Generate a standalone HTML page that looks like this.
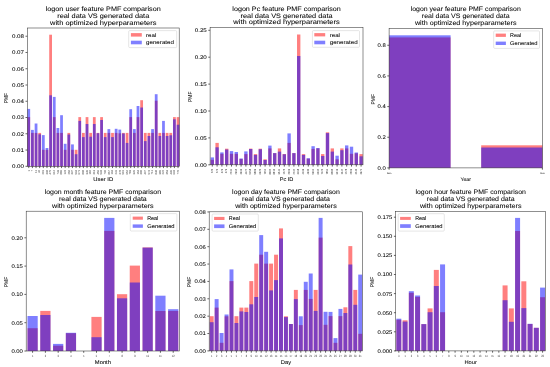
<!DOCTYPE html>
<html><head><meta charset="utf-8"><title>logon feature PMF comparison</title><style>
html,body{margin:0;padding:0;background:#fff;width:550px;height:367px;overflow:hidden}
svg{display:block;will-change:transform}
text{font-family:"Liberation Sans",sans-serif;text-rendering:geometricPrecision;stroke:#000;stroke-width:0.13px;stroke-opacity:0.4}
</style></head><body>
<svg width="550" height="367" viewBox="0 0 550 367">
<g>
<rect x="27.38" y="117.1" width="2.77" height="49.2" fill="#ff0000" fill-opacity="0.5"/>
<rect x="31.02" y="132.9" width="2.77" height="33.4" fill="#ff0000" fill-opacity="0.5"/>
<rect x="34.66" y="132.9" width="2.77" height="33.4" fill="#ff0000" fill-opacity="0.5"/>
<rect x="38.3" y="132.9" width="2.77" height="33.4" fill="#ff0000" fill-opacity="0.5"/>
<rect x="41.94" y="149.8" width="2.77" height="16.5" fill="#ff0000" fill-opacity="0.5"/>
<rect x="45.58" y="149.8" width="2.77" height="16.5" fill="#ff0000" fill-opacity="0.5"/>
<rect x="49.22" y="34.7" width="2.77" height="131.6" fill="#ff0000" fill-opacity="0.5"/>
<rect x="52.86" y="117.1" width="2.77" height="49.2" fill="#ff0000" fill-opacity="0.5"/>
<rect x="56.5" y="132.9" width="2.77" height="33.4" fill="#ff0000" fill-opacity="0.5"/>
<rect x="60.15" y="132.9" width="2.77" height="33.4" fill="#ff0000" fill-opacity="0.5"/>
<rect x="63.79" y="149.8" width="2.77" height="16.5" fill="#ff0000" fill-opacity="0.5"/>
<rect x="67.43" y="132.9" width="2.77" height="33.4" fill="#ff0000" fill-opacity="0.5"/>
<rect x="71.07" y="149.8" width="2.77" height="16.5" fill="#ff0000" fill-opacity="0.5"/>
<rect x="74.71" y="149.8" width="2.77" height="16.5" fill="#ff0000" fill-opacity="0.5"/>
<rect x="78.35" y="117.1" width="2.77" height="49.2" fill="#ff0000" fill-opacity="0.5"/>
<rect x="81.99" y="132.9" width="2.77" height="33.4" fill="#ff0000" fill-opacity="0.5"/>
<rect x="85.63" y="117.1" width="2.77" height="49.2" fill="#ff0000" fill-opacity="0.5"/>
<rect x="89.27" y="132.9" width="2.77" height="33.4" fill="#ff0000" fill-opacity="0.5"/>
<rect x="92.91" y="117.1" width="2.77" height="49.2" fill="#ff0000" fill-opacity="0.5"/>
<rect x="96.56" y="132.9" width="2.77" height="33.4" fill="#ff0000" fill-opacity="0.5"/>
<rect x="100.2" y="117.1" width="2.77" height="49.2" fill="#ff0000" fill-opacity="0.5"/>
<rect x="103.84" y="132.9" width="2.77" height="33.4" fill="#ff0000" fill-opacity="0.5"/>
<rect x="107.48" y="132.9" width="2.77" height="33.4" fill="#ff0000" fill-opacity="0.5"/>
<rect x="111.12" y="132.9" width="2.77" height="33.4" fill="#ff0000" fill-opacity="0.5"/>
<rect x="114.76" y="132.9" width="2.77" height="33.4" fill="#ff0000" fill-opacity="0.5"/>
<rect x="118.4" y="133.3" width="2.77" height="33" fill="#ff0000" fill-opacity="0.5"/>
<rect x="122.04" y="132.9" width="2.77" height="33.4" fill="#ff0000" fill-opacity="0.5"/>
<rect x="125.68" y="132.9" width="2.77" height="33.4" fill="#ff0000" fill-opacity="0.5"/>
<rect x="129.32" y="117.1" width="2.77" height="49.2" fill="#ff0000" fill-opacity="0.5"/>
<rect x="132.97" y="132.9" width="2.77" height="33.4" fill="#ff0000" fill-opacity="0.5"/>
<rect x="136.61" y="117.1" width="2.77" height="49.2" fill="#ff0000" fill-opacity="0.5"/>
<rect x="140.25" y="100.2" width="2.77" height="66.1" fill="#ff0000" fill-opacity="0.5"/>
<rect x="143.89" y="132.9" width="2.77" height="33.4" fill="#ff0000" fill-opacity="0.5"/>
<rect x="147.53" y="132.9" width="2.77" height="33.4" fill="#ff0000" fill-opacity="0.5"/>
<rect x="151.17" y="132.9" width="2.77" height="33.4" fill="#ff0000" fill-opacity="0.5"/>
<rect x="154.81" y="100.7" width="2.77" height="65.6" fill="#ff0000" fill-opacity="0.5"/>
<rect x="158.45" y="132.9" width="2.77" height="33.4" fill="#ff0000" fill-opacity="0.5"/>
<rect x="162.09" y="132.9" width="2.77" height="33.4" fill="#ff0000" fill-opacity="0.5"/>
<rect x="165.73" y="132.9" width="2.77" height="33.4" fill="#ff0000" fill-opacity="0.5"/>
<rect x="169.38" y="132.9" width="2.77" height="33.4" fill="#ff0000" fill-opacity="0.5"/>
<rect x="173.02" y="117.1" width="2.77" height="49.2" fill="#ff0000" fill-opacity="0.5"/>
<rect x="176.66" y="117.1" width="2.77" height="49.2" fill="#ff0000" fill-opacity="0.5"/>
<rect x="27.38" y="108.9" width="2.77" height="57.4" fill="#0000ff" fill-opacity="0.5"/>
<rect x="31.02" y="129.9" width="2.77" height="36.4" fill="#0000ff" fill-opacity="0.5"/>
<rect x="34.66" y="123.5" width="2.77" height="42.8" fill="#0000ff" fill-opacity="0.5"/>
<rect x="38.3" y="134.3" width="2.77" height="32" fill="#0000ff" fill-opacity="0.5"/>
<rect x="41.94" y="135.1" width="2.77" height="31.2" fill="#0000ff" fill-opacity="0.5"/>
<rect x="45.58" y="148" width="2.77" height="18.3" fill="#0000ff" fill-opacity="0.5"/>
<rect x="49.22" y="95.3" width="2.77" height="71" fill="#0000ff" fill-opacity="0.5"/>
<rect x="52.86" y="96.9" width="2.77" height="69.4" fill="#0000ff" fill-opacity="0.5"/>
<rect x="56.5" y="128" width="2.77" height="38.3" fill="#0000ff" fill-opacity="0.5"/>
<rect x="60.15" y="115.2" width="2.77" height="51.1" fill="#0000ff" fill-opacity="0.5"/>
<rect x="63.79" y="143.8" width="2.77" height="22.5" fill="#0000ff" fill-opacity="0.5"/>
<rect x="67.43" y="134.5" width="2.77" height="31.8" fill="#0000ff" fill-opacity="0.5"/>
<rect x="71.07" y="144.4" width="2.77" height="21.9" fill="#0000ff" fill-opacity="0.5"/>
<rect x="74.71" y="154.2" width="2.77" height="12.1" fill="#0000ff" fill-opacity="0.5"/>
<rect x="78.35" y="120.9" width="2.77" height="45.4" fill="#0000ff" fill-opacity="0.5"/>
<rect x="81.99" y="137.1" width="2.77" height="29.2" fill="#0000ff" fill-opacity="0.5"/>
<rect x="85.63" y="124" width="2.77" height="42.3" fill="#0000ff" fill-opacity="0.5"/>
<rect x="89.27" y="136.7" width="2.77" height="29.6" fill="#0000ff" fill-opacity="0.5"/>
<rect x="92.91" y="124" width="2.77" height="42.3" fill="#0000ff" fill-opacity="0.5"/>
<rect x="96.56" y="133.2" width="2.77" height="33.1" fill="#0000ff" fill-opacity="0.5"/>
<rect x="100.2" y="120" width="2.77" height="46.3" fill="#0000ff" fill-opacity="0.5"/>
<rect x="103.84" y="137.1" width="2.77" height="29.2" fill="#0000ff" fill-opacity="0.5"/>
<rect x="107.48" y="129.1" width="2.77" height="37.2" fill="#0000ff" fill-opacity="0.5"/>
<rect x="111.12" y="137.1" width="2.77" height="29.2" fill="#0000ff" fill-opacity="0.5"/>
<rect x="114.76" y="128.8" width="2.77" height="37.5" fill="#0000ff" fill-opacity="0.5"/>
<rect x="118.4" y="129.6" width="2.77" height="36.7" fill="#0000ff" fill-opacity="0.5"/>
<rect x="122.04" y="133.5" width="2.77" height="32.8" fill="#0000ff" fill-opacity="0.5"/>
<rect x="125.68" y="142.9" width="2.77" height="23.4" fill="#0000ff" fill-opacity="0.5"/>
<rect x="129.32" y="109.2" width="2.77" height="57.1" fill="#0000ff" fill-opacity="0.5"/>
<rect x="132.97" y="129.1" width="2.77" height="37.2" fill="#0000ff" fill-opacity="0.5"/>
<rect x="136.61" y="106" width="2.77" height="60.3" fill="#0000ff" fill-opacity="0.5"/>
<rect x="140.25" y="107.5" width="2.77" height="58.8" fill="#0000ff" fill-opacity="0.5"/>
<rect x="143.89" y="141.1" width="2.77" height="25.2" fill="#0000ff" fill-opacity="0.5"/>
<rect x="147.53" y="136" width="2.77" height="30.3" fill="#0000ff" fill-opacity="0.5"/>
<rect x="151.17" y="129.1" width="2.77" height="37.2" fill="#0000ff" fill-opacity="0.5"/>
<rect x="154.81" y="94.2" width="2.77" height="72.1" fill="#0000ff" fill-opacity="0.5"/>
<rect x="158.45" y="136" width="2.77" height="30.3" fill="#0000ff" fill-opacity="0.5"/>
<rect x="162.09" y="120.9" width="2.77" height="45.4" fill="#0000ff" fill-opacity="0.5"/>
<rect x="165.73" y="136" width="2.77" height="30.3" fill="#0000ff" fill-opacity="0.5"/>
<rect x="169.38" y="135.3" width="2.77" height="31" fill="#0000ff" fill-opacity="0.5"/>
<rect x="173.02" y="119.3" width="2.77" height="47" fill="#0000ff" fill-opacity="0.5"/>
<rect x="176.66" y="124.7" width="2.77" height="41.6" fill="#0000ff" fill-opacity="0.5"/>
<rect x="27.3" y="28" width="151.9" height="138.3" fill="none" stroke="#333" stroke-width="0.55"/>
<line x1="28.76" y1="166.3" x2="28.76" y2="168.1" stroke="#222" stroke-width="0.7"/>
<line x1="32.4" y1="166.3" x2="32.4" y2="168.1" stroke="#222" stroke-width="0.7"/>
<line x1="36.04" y1="166.3" x2="36.04" y2="168.1" stroke="#222" stroke-width="0.7"/>
<line x1="39.68" y1="166.3" x2="39.68" y2="168.1" stroke="#222" stroke-width="0.7"/>
<line x1="43.32" y1="166.3" x2="43.32" y2="168.1" stroke="#222" stroke-width="0.7"/>
<line x1="46.97" y1="166.3" x2="46.97" y2="168.1" stroke="#222" stroke-width="0.7"/>
<line x1="50.61" y1="166.3" x2="50.61" y2="168.1" stroke="#222" stroke-width="0.7"/>
<line x1="54.25" y1="166.3" x2="54.25" y2="168.1" stroke="#222" stroke-width="0.7"/>
<line x1="57.89" y1="166.3" x2="57.89" y2="168.1" stroke="#222" stroke-width="0.7"/>
<line x1="61.53" y1="166.3" x2="61.53" y2="168.1" stroke="#222" stroke-width="0.7"/>
<line x1="65.17" y1="166.3" x2="65.17" y2="168.1" stroke="#222" stroke-width="0.7"/>
<line x1="68.81" y1="166.3" x2="68.81" y2="168.1" stroke="#222" stroke-width="0.7"/>
<line x1="72.45" y1="166.3" x2="72.45" y2="168.1" stroke="#222" stroke-width="0.7"/>
<line x1="76.09" y1="166.3" x2="76.09" y2="168.1" stroke="#222" stroke-width="0.7"/>
<line x1="79.73" y1="166.3" x2="79.73" y2="168.1" stroke="#222" stroke-width="0.7"/>
<line x1="83.38" y1="166.3" x2="83.38" y2="168.1" stroke="#222" stroke-width="0.7"/>
<line x1="87.02" y1="166.3" x2="87.02" y2="168.1" stroke="#222" stroke-width="0.7"/>
<line x1="90.66" y1="166.3" x2="90.66" y2="168.1" stroke="#222" stroke-width="0.7"/>
<line x1="94.3" y1="166.3" x2="94.3" y2="168.1" stroke="#222" stroke-width="0.7"/>
<line x1="97.94" y1="166.3" x2="97.94" y2="168.1" stroke="#222" stroke-width="0.7"/>
<line x1="101.58" y1="166.3" x2="101.58" y2="168.1" stroke="#222" stroke-width="0.7"/>
<line x1="105.22" y1="166.3" x2="105.22" y2="168.1" stroke="#222" stroke-width="0.7"/>
<line x1="108.86" y1="166.3" x2="108.86" y2="168.1" stroke="#222" stroke-width="0.7"/>
<line x1="112.5" y1="166.3" x2="112.5" y2="168.1" stroke="#222" stroke-width="0.7"/>
<line x1="116.14" y1="166.3" x2="116.14" y2="168.1" stroke="#222" stroke-width="0.7"/>
<line x1="119.79" y1="166.3" x2="119.79" y2="168.1" stroke="#222" stroke-width="0.7"/>
<line x1="123.43" y1="166.3" x2="123.43" y2="168.1" stroke="#222" stroke-width="0.7"/>
<line x1="127.07" y1="166.3" x2="127.07" y2="168.1" stroke="#222" stroke-width="0.7"/>
<line x1="130.71" y1="166.3" x2="130.71" y2="168.1" stroke="#222" stroke-width="0.7"/>
<line x1="134.35" y1="166.3" x2="134.35" y2="168.1" stroke="#222" stroke-width="0.7"/>
<line x1="137.99" y1="166.3" x2="137.99" y2="168.1" stroke="#222" stroke-width="0.7"/>
<line x1="141.63" y1="166.3" x2="141.63" y2="168.1" stroke="#222" stroke-width="0.7"/>
<line x1="145.27" y1="166.3" x2="145.27" y2="168.1" stroke="#222" stroke-width="0.7"/>
<line x1="148.91" y1="166.3" x2="148.91" y2="168.1" stroke="#222" stroke-width="0.7"/>
<line x1="152.55" y1="166.3" x2="152.55" y2="168.1" stroke="#222" stroke-width="0.7"/>
<line x1="156.19" y1="166.3" x2="156.19" y2="168.1" stroke="#222" stroke-width="0.7"/>
<line x1="159.84" y1="166.3" x2="159.84" y2="168.1" stroke="#222" stroke-width="0.7"/>
<line x1="163.48" y1="166.3" x2="163.48" y2="168.1" stroke="#222" stroke-width="0.7"/>
<line x1="167.12" y1="166.3" x2="167.12" y2="168.1" stroke="#222" stroke-width="0.7"/>
<line x1="170.76" y1="166.3" x2="170.76" y2="168.1" stroke="#222" stroke-width="0.7"/>
<line x1="174.4" y1="166.3" x2="174.4" y2="168.1" stroke="#222" stroke-width="0.7"/>
<line x1="178.04" y1="166.3" x2="178.04" y2="168.1" stroke="#222" stroke-width="0.7"/>
<line x1="25.5" y1="166.3" x2="27.3" y2="166.3" stroke="#222" stroke-width="0.7"/>
<text x="24" y="168.19" font-size="5.34" text-anchor="end" textLength="12.06" lengthAdjust="spacingAndGlyphs" fill="#000">0.00</text>
<line x1="25.5" y1="150.04" x2="27.3" y2="150.04" stroke="#222" stroke-width="0.7"/>
<text x="24" y="151.93" font-size="5.34" text-anchor="end" textLength="12.06" lengthAdjust="spacingAndGlyphs" fill="#000">0.01</text>
<line x1="25.5" y1="133.78" x2="27.3" y2="133.78" stroke="#222" stroke-width="0.7"/>
<text x="24" y="135.67" font-size="5.34" text-anchor="end" textLength="12.06" lengthAdjust="spacingAndGlyphs" fill="#000">0.02</text>
<line x1="25.5" y1="117.52" x2="27.3" y2="117.52" stroke="#222" stroke-width="0.7"/>
<text x="24" y="119.41" font-size="5.34" text-anchor="end" textLength="12.06" lengthAdjust="spacingAndGlyphs" fill="#000">0.03</text>
<line x1="25.5" y1="101.26" x2="27.3" y2="101.26" stroke="#222" stroke-width="0.7"/>
<text x="24" y="103.15" font-size="5.34" text-anchor="end" textLength="12.06" lengthAdjust="spacingAndGlyphs" fill="#000">0.04</text>
<line x1="25.5" y1="85" x2="27.3" y2="85" stroke="#222" stroke-width="0.7"/>
<text x="24" y="86.89" font-size="5.34" text-anchor="end" textLength="12.06" lengthAdjust="spacingAndGlyphs" fill="#000">0.05</text>
<line x1="25.5" y1="68.74" x2="27.3" y2="68.74" stroke="#222" stroke-width="0.7"/>
<text x="24" y="70.63" font-size="5.34" text-anchor="end" textLength="12.06" lengthAdjust="spacingAndGlyphs" fill="#000">0.06</text>
<line x1="25.5" y1="52.48" x2="27.3" y2="52.48" stroke="#222" stroke-width="0.7"/>
<text x="24" y="54.37" font-size="5.34" text-anchor="end" textLength="12.06" lengthAdjust="spacingAndGlyphs" fill="#000">0.07</text>
<line x1="25.5" y1="36.22" x2="27.3" y2="36.22" stroke="#222" stroke-width="0.7"/>
<text x="24" y="38.11" font-size="5.34" text-anchor="end" textLength="12.06" lengthAdjust="spacingAndGlyphs" fill="#000">0.08</text>
<text font-size="2.9" text-anchor="end" textLength="1.53" lengthAdjust="spacingAndGlyphs" fill="#444" style="stroke:none" transform="translate(29.51 169.9) rotate(-90)">1</text>
<text font-size="2.9" text-anchor="end" textLength="1.53" lengthAdjust="spacingAndGlyphs" fill="#444" style="stroke:none" transform="translate(33.15 169.9) rotate(-90)">7</text>
<text font-size="2.9" text-anchor="end" textLength="3.06" lengthAdjust="spacingAndGlyphs" fill="#444" style="stroke:none" transform="translate(36.79 169.9) rotate(-90)">11</text>
<text font-size="2.9" text-anchor="end" textLength="3.06" lengthAdjust="spacingAndGlyphs" fill="#444" style="stroke:none" transform="translate(40.43 169.9) rotate(-90)">42</text>
<text font-size="2.9" text-anchor="end" textLength="4.59" lengthAdjust="spacingAndGlyphs" fill="#444" style="stroke:none" transform="translate(44.07 169.9) rotate(-90)">201</text>
<text font-size="2.9" text-anchor="end" textLength="4.59" lengthAdjust="spacingAndGlyphs" fill="#444" style="stroke:none" transform="translate(47.72 169.9) rotate(-90)">338</text>
<text font-size="2.9" text-anchor="end" textLength="4.59" lengthAdjust="spacingAndGlyphs" fill="#444" style="stroke:none" transform="translate(51.36 169.9) rotate(-90)">475</text>
<text font-size="2.9" text-anchor="end" textLength="4.59" lengthAdjust="spacingAndGlyphs" fill="#444" style="stroke:none" transform="translate(55 169.9) rotate(-90)">612</text>
<text font-size="2.9" text-anchor="end" textLength="4.59" lengthAdjust="spacingAndGlyphs" fill="#444" style="stroke:none" transform="translate(58.64 169.9) rotate(-90)">749</text>
<text font-size="2.9" text-anchor="end" textLength="4.59" lengthAdjust="spacingAndGlyphs" fill="#444" style="stroke:none" transform="translate(62.28 169.9) rotate(-90)">886</text>
<text font-size="2.9" text-anchor="end" textLength="4.59" lengthAdjust="spacingAndGlyphs" fill="#444" style="stroke:none" transform="translate(65.92 169.9) rotate(-90)">123</text>
<text font-size="2.9" text-anchor="end" textLength="4.59" lengthAdjust="spacingAndGlyphs" fill="#444" style="stroke:none" transform="translate(69.56 169.9) rotate(-90)">260</text>
<text font-size="2.9" text-anchor="end" textLength="4.59" lengthAdjust="spacingAndGlyphs" fill="#444" style="stroke:none" transform="translate(73.2 169.9) rotate(-90)">397</text>
<text font-size="2.9" text-anchor="end" textLength="4.59" lengthAdjust="spacingAndGlyphs" fill="#444" style="stroke:none" transform="translate(76.84 169.9) rotate(-90)">534</text>
<text font-size="2.9" text-anchor="end" textLength="4.59" lengthAdjust="spacingAndGlyphs" fill="#444" style="stroke:none" transform="translate(80.48 169.9) rotate(-90)">671</text>
<text font-size="2.9" text-anchor="end" textLength="4.59" lengthAdjust="spacingAndGlyphs" fill="#444" style="stroke:none" transform="translate(84.12 169.9) rotate(-90)">808</text>
<text font-size="2.9" text-anchor="end" textLength="4.59" lengthAdjust="spacingAndGlyphs" fill="#444" style="stroke:none" transform="translate(87.77 169.9) rotate(-90)">945</text>
<text font-size="2.9" text-anchor="end" textLength="4.59" lengthAdjust="spacingAndGlyphs" fill="#444" style="stroke:none" transform="translate(91.41 169.9) rotate(-90)">182</text>
<text font-size="2.9" text-anchor="end" textLength="4.59" lengthAdjust="spacingAndGlyphs" fill="#444" style="stroke:none" transform="translate(95.05 169.9) rotate(-90)">319</text>
<text font-size="2.9" text-anchor="end" textLength="4.59" lengthAdjust="spacingAndGlyphs" fill="#444" style="stroke:none" transform="translate(98.69 169.9) rotate(-90)">456</text>
<text font-size="2.9" text-anchor="end" textLength="4.59" lengthAdjust="spacingAndGlyphs" fill="#444" style="stroke:none" transform="translate(102.33 169.9) rotate(-90)">593</text>
<text font-size="2.9" text-anchor="end" textLength="4.59" lengthAdjust="spacingAndGlyphs" fill="#444" style="stroke:none" transform="translate(105.97 169.9) rotate(-90)">730</text>
<text font-size="2.9" text-anchor="end" textLength="4.59" lengthAdjust="spacingAndGlyphs" fill="#444" style="stroke:none" transform="translate(109.61 169.9) rotate(-90)">867</text>
<text font-size="2.9" text-anchor="end" textLength="4.59" lengthAdjust="spacingAndGlyphs" fill="#444" style="stroke:none" transform="translate(113.25 169.9) rotate(-90)">104</text>
<text font-size="2.9" text-anchor="end" textLength="4.59" lengthAdjust="spacingAndGlyphs" fill="#444" style="stroke:none" transform="translate(116.89 169.9) rotate(-90)">241</text>
<text font-size="2.9" text-anchor="end" textLength="4.59" lengthAdjust="spacingAndGlyphs" fill="#444" style="stroke:none" transform="translate(120.54 169.9) rotate(-90)">378</text>
<text font-size="2.9" text-anchor="end" textLength="4.59" lengthAdjust="spacingAndGlyphs" fill="#444" style="stroke:none" transform="translate(124.18 169.9) rotate(-90)">515</text>
<text font-size="2.9" text-anchor="end" textLength="4.59" lengthAdjust="spacingAndGlyphs" fill="#444" style="stroke:none" transform="translate(127.82 169.9) rotate(-90)">652</text>
<text font-size="2.9" text-anchor="end" textLength="4.59" lengthAdjust="spacingAndGlyphs" fill="#444" style="stroke:none" transform="translate(131.46 169.9) rotate(-90)">789</text>
<text font-size="2.9" text-anchor="end" textLength="4.59" lengthAdjust="spacingAndGlyphs" fill="#444" style="stroke:none" transform="translate(135.1 169.9) rotate(-90)">926</text>
<text font-size="2.9" text-anchor="end" textLength="4.59" lengthAdjust="spacingAndGlyphs" fill="#444" style="stroke:none" transform="translate(138.74 169.9) rotate(-90)">163</text>
<text font-size="2.9" text-anchor="end" textLength="4.59" lengthAdjust="spacingAndGlyphs" fill="#444" style="stroke:none" transform="translate(142.38 169.9) rotate(-90)">300</text>
<text font-size="2.9" text-anchor="end" textLength="4.59" lengthAdjust="spacingAndGlyphs" fill="#444" style="stroke:none" transform="translate(146.02 169.9) rotate(-90)">437</text>
<text font-size="2.9" text-anchor="end" textLength="4.59" lengthAdjust="spacingAndGlyphs" fill="#444" style="stroke:none" transform="translate(149.66 169.9) rotate(-90)">574</text>
<text font-size="2.9" text-anchor="end" textLength="4.59" lengthAdjust="spacingAndGlyphs" fill="#444" style="stroke:none" transform="translate(153.3 169.9) rotate(-90)">711</text>
<text font-size="2.9" text-anchor="end" textLength="4.59" lengthAdjust="spacingAndGlyphs" fill="#444" style="stroke:none" transform="translate(156.94 169.9) rotate(-90)">848</text>
<text font-size="2.9" text-anchor="end" textLength="4.59" lengthAdjust="spacingAndGlyphs" fill="#444" style="stroke:none" transform="translate(160.59 169.9) rotate(-90)">985</text>
<text font-size="2.9" text-anchor="end" textLength="4.59" lengthAdjust="spacingAndGlyphs" fill="#444" style="stroke:none" transform="translate(164.23 169.9) rotate(-90)">222</text>
<text font-size="2.9" text-anchor="end" textLength="4.59" lengthAdjust="spacingAndGlyphs" fill="#444" style="stroke:none" transform="translate(167.87 169.9) rotate(-90)">359</text>
<text font-size="2.9" text-anchor="end" textLength="4.59" lengthAdjust="spacingAndGlyphs" fill="#444" style="stroke:none" transform="translate(171.51 169.9) rotate(-90)">496</text>
<text font-size="2.9" text-anchor="end" textLength="4.59" lengthAdjust="spacingAndGlyphs" fill="#444" style="stroke:none" transform="translate(175.15 169.9) rotate(-90)">633</text>
<text font-size="2.9" text-anchor="end" textLength="4.59" lengthAdjust="spacingAndGlyphs" fill="#444" style="stroke:none" transform="translate(178.79 169.9) rotate(-90)">770</text>
<text x="103.25" y="10.9" font-size="6.41" text-anchor="middle" textLength="115.13" lengthAdjust="spacingAndGlyphs" fill="#000">logon user feature PMF comparison</text>
<text x="103.25" y="17.75" font-size="6.41" text-anchor="middle" textLength="92.01" lengthAdjust="spacingAndGlyphs" fill="#000">real data VS generated data</text>
<text x="103.25" y="24.6" font-size="6.41" text-anchor="middle" textLength="106.52" lengthAdjust="spacingAndGlyphs" fill="#000">with optimized hyperparameters</text>
<text x="103.25" y="180.6" font-size="5.34" text-anchor="middle" textLength="19.84" lengthAdjust="spacingAndGlyphs" fill="#000">User ID</text>
<text x="0" y="0" font-size="5.69" text-anchor="middle" textLength="10.38" lengthAdjust="spacingAndGlyphs" fill="#000" transform="translate(8.2 98.1) rotate(-90)">PMF</text>
<rect x="128.7" y="30.6" width="48" height="17" rx="1" ry="1" fill="#fff" fill-opacity="0.8" stroke="#ccc" stroke-width="0.5"/>
<rect x="130.9" y="33.1" width="10.9" height="3.5" fill="#ff0000" fill-opacity="0.5"/>
<rect x="130.9" y="40.7" width="10.9" height="3.6" fill="#0000ff" fill-opacity="0.5"/>
<text x="146" y="36.6" font-size="5.34" text-anchor="start" textLength="10.26" lengthAdjust="spacingAndGlyphs" fill="#000">real</text>
<text x="146" y="44" font-size="5.34" text-anchor="start" textLength="27.98" lengthAdjust="spacingAndGlyphs" fill="#000">generated</text>
</g>
<g>
<rect x="210.62" y="159.8" width="3.36" height="5" fill="#ff0000" fill-opacity="0.5"/>
<rect x="215.42" y="142.9" width="3.36" height="21.9" fill="#ff0000" fill-opacity="0.5"/>
<rect x="220.22" y="153.8" width="3.36" height="11" fill="#ff0000" fill-opacity="0.5"/>
<rect x="225.02" y="148.7" width="3.36" height="16.1" fill="#ff0000" fill-opacity="0.5"/>
<rect x="229.82" y="153.8" width="3.36" height="11" fill="#ff0000" fill-opacity="0.5"/>
<rect x="234.62" y="153.8" width="3.36" height="11" fill="#ff0000" fill-opacity="0.5"/>
<rect x="239.42" y="158.9" width="3.36" height="5.9" fill="#ff0000" fill-opacity="0.5"/>
<rect x="244.22" y="154.1" width="3.36" height="10.7" fill="#ff0000" fill-opacity="0.5"/>
<rect x="249.02" y="148.6" width="3.36" height="16.2" fill="#ff0000" fill-opacity="0.5"/>
<rect x="253.82" y="154.1" width="3.36" height="10.7" fill="#ff0000" fill-opacity="0.5"/>
<rect x="258.62" y="148.7" width="3.36" height="16.1" fill="#ff0000" fill-opacity="0.5"/>
<rect x="263.42" y="159.3" width="3.36" height="5.5" fill="#ff0000" fill-opacity="0.5"/>
<rect x="268.22" y="148.4" width="3.36" height="16.4" fill="#ff0000" fill-opacity="0.5"/>
<rect x="273.02" y="153.1" width="3.36" height="11.7" fill="#ff0000" fill-opacity="0.5"/>
<rect x="277.82" y="148.4" width="3.36" height="16.4" fill="#ff0000" fill-opacity="0.5"/>
<rect x="282.62" y="154" width="3.36" height="10.8" fill="#ff0000" fill-opacity="0.5"/>
<rect x="287.42" y="142.9" width="3.36" height="21.9" fill="#ff0000" fill-opacity="0.5"/>
<rect x="292.22" y="153.1" width="3.36" height="11.7" fill="#ff0000" fill-opacity="0.5"/>
<rect x="297.02" y="34.5" width="3.36" height="130.3" fill="#ff0000" fill-opacity="0.5"/>
<rect x="301.82" y="154.1" width="3.36" height="10.7" fill="#ff0000" fill-opacity="0.5"/>
<rect x="306.62" y="158.7" width="3.36" height="6.1" fill="#ff0000" fill-opacity="0.5"/>
<rect x="311.42" y="148.9" width="3.36" height="15.9" fill="#ff0000" fill-opacity="0.5"/>
<rect x="316.22" y="148.4" width="3.36" height="16.4" fill="#ff0000" fill-opacity="0.5"/>
<rect x="321.02" y="154.1" width="3.36" height="10.7" fill="#ff0000" fill-opacity="0.5"/>
<rect x="325.82" y="132.3" width="3.36" height="32.5" fill="#ff0000" fill-opacity="0.5"/>
<rect x="330.62" y="148.4" width="3.36" height="16.4" fill="#ff0000" fill-opacity="0.5"/>
<rect x="335.42" y="159.3" width="3.36" height="5.5" fill="#ff0000" fill-opacity="0.5"/>
<rect x="340.22" y="148.4" width="3.36" height="16.4" fill="#ff0000" fill-opacity="0.5"/>
<rect x="345.02" y="148.4" width="3.36" height="16.4" fill="#ff0000" fill-opacity="0.5"/>
<rect x="349.82" y="153.8" width="3.36" height="11" fill="#ff0000" fill-opacity="0.5"/>
<rect x="354.62" y="153.3" width="3.36" height="11.5" fill="#ff0000" fill-opacity="0.5"/>
<rect x="359.42" y="154.1" width="3.36" height="10.7" fill="#ff0000" fill-opacity="0.5"/>
<rect x="210.62" y="157.4" width="3.36" height="7.4" fill="#0000ff" fill-opacity="0.5"/>
<rect x="215.42" y="147.3" width="3.36" height="17.5" fill="#0000ff" fill-opacity="0.5"/>
<rect x="220.22" y="152.4" width="3.36" height="12.4" fill="#0000ff" fill-opacity="0.5"/>
<rect x="225.02" y="149.5" width="3.36" height="15.3" fill="#0000ff" fill-opacity="0.5"/>
<rect x="229.82" y="151.1" width="3.36" height="13.7" fill="#0000ff" fill-opacity="0.5"/>
<rect x="234.62" y="152" width="3.36" height="12.8" fill="#0000ff" fill-opacity="0.5"/>
<rect x="239.42" y="158.5" width="3.36" height="6.3" fill="#0000ff" fill-opacity="0.5"/>
<rect x="244.22" y="151.4" width="3.36" height="13.4" fill="#0000ff" fill-opacity="0.5"/>
<rect x="249.02" y="149" width="3.36" height="15.8" fill="#0000ff" fill-opacity="0.5"/>
<rect x="253.82" y="154.9" width="3.36" height="9.9" fill="#0000ff" fill-opacity="0.5"/>
<rect x="258.62" y="149.2" width="3.36" height="15.6" fill="#0000ff" fill-opacity="0.5"/>
<rect x="263.42" y="160" width="3.36" height="4.8" fill="#0000ff" fill-opacity="0.5"/>
<rect x="268.22" y="145.6" width="3.36" height="19.2" fill="#0000ff" fill-opacity="0.5"/>
<rect x="273.02" y="153.1" width="3.36" height="11.7" fill="#0000ff" fill-opacity="0.5"/>
<rect x="277.82" y="151.6" width="3.36" height="13.2" fill="#0000ff" fill-opacity="0.5"/>
<rect x="282.62" y="154.3" width="3.36" height="10.5" fill="#0000ff" fill-opacity="0.5"/>
<rect x="287.42" y="133.4" width="3.36" height="31.4" fill="#0000ff" fill-opacity="0.5"/>
<rect x="292.22" y="153.1" width="3.36" height="11.7" fill="#0000ff" fill-opacity="0.5"/>
<rect x="297.02" y="56" width="3.36" height="108.8" fill="#0000ff" fill-opacity="0.5"/>
<rect x="301.82" y="154.9" width="3.36" height="9.9" fill="#0000ff" fill-opacity="0.5"/>
<rect x="306.62" y="158.2" width="3.36" height="6.6" fill="#0000ff" fill-opacity="0.5"/>
<rect x="311.42" y="146.2" width="3.36" height="18.6" fill="#0000ff" fill-opacity="0.5"/>
<rect x="316.22" y="148" width="3.36" height="16.8" fill="#0000ff" fill-opacity="0.5"/>
<rect x="321.02" y="156" width="3.36" height="8.8" fill="#0000ff" fill-opacity="0.5"/>
<rect x="325.82" y="133.1" width="3.36" height="31.7" fill="#0000ff" fill-opacity="0.5"/>
<rect x="330.62" y="151.6" width="3.36" height="13.2" fill="#0000ff" fill-opacity="0.5"/>
<rect x="335.42" y="155.7" width="3.36" height="9.1" fill="#0000ff" fill-opacity="0.5"/>
<rect x="340.22" y="150.2" width="3.36" height="14.6" fill="#0000ff" fill-opacity="0.5"/>
<rect x="345.02" y="145.4" width="3.36" height="19.4" fill="#0000ff" fill-opacity="0.5"/>
<rect x="349.82" y="146.7" width="3.36" height="18.1" fill="#0000ff" fill-opacity="0.5"/>
<rect x="354.62" y="152.5" width="3.36" height="12.3" fill="#0000ff" fill-opacity="0.5"/>
<rect x="359.42" y="156.3" width="3.36" height="8.5" fill="#0000ff" fill-opacity="0.5"/>
<rect x="210.1" y="27.4" width="152.9" height="137.4" fill="none" stroke="#333" stroke-width="0.55"/>
<line x1="212.3" y1="164.8" x2="212.3" y2="166.6" stroke="#222" stroke-width="0.7"/>
<line x1="217.1" y1="164.8" x2="217.1" y2="166.6" stroke="#222" stroke-width="0.7"/>
<line x1="221.9" y1="164.8" x2="221.9" y2="166.6" stroke="#222" stroke-width="0.7"/>
<line x1="226.7" y1="164.8" x2="226.7" y2="166.6" stroke="#222" stroke-width="0.7"/>
<line x1="231.5" y1="164.8" x2="231.5" y2="166.6" stroke="#222" stroke-width="0.7"/>
<line x1="236.3" y1="164.8" x2="236.3" y2="166.6" stroke="#222" stroke-width="0.7"/>
<line x1="241.1" y1="164.8" x2="241.1" y2="166.6" stroke="#222" stroke-width="0.7"/>
<line x1="245.9" y1="164.8" x2="245.9" y2="166.6" stroke="#222" stroke-width="0.7"/>
<line x1="250.7" y1="164.8" x2="250.7" y2="166.6" stroke="#222" stroke-width="0.7"/>
<line x1="255.5" y1="164.8" x2="255.5" y2="166.6" stroke="#222" stroke-width="0.7"/>
<line x1="260.3" y1="164.8" x2="260.3" y2="166.6" stroke="#222" stroke-width="0.7"/>
<line x1="265.1" y1="164.8" x2="265.1" y2="166.6" stroke="#222" stroke-width="0.7"/>
<line x1="269.9" y1="164.8" x2="269.9" y2="166.6" stroke="#222" stroke-width="0.7"/>
<line x1="274.7" y1="164.8" x2="274.7" y2="166.6" stroke="#222" stroke-width="0.7"/>
<line x1="279.5" y1="164.8" x2="279.5" y2="166.6" stroke="#222" stroke-width="0.7"/>
<line x1="284.3" y1="164.8" x2="284.3" y2="166.6" stroke="#222" stroke-width="0.7"/>
<line x1="289.1" y1="164.8" x2="289.1" y2="166.6" stroke="#222" stroke-width="0.7"/>
<line x1="293.9" y1="164.8" x2="293.9" y2="166.6" stroke="#222" stroke-width="0.7"/>
<line x1="298.7" y1="164.8" x2="298.7" y2="166.6" stroke="#222" stroke-width="0.7"/>
<line x1="303.5" y1="164.8" x2="303.5" y2="166.6" stroke="#222" stroke-width="0.7"/>
<line x1="308.3" y1="164.8" x2="308.3" y2="166.6" stroke="#222" stroke-width="0.7"/>
<line x1="313.1" y1="164.8" x2="313.1" y2="166.6" stroke="#222" stroke-width="0.7"/>
<line x1="317.9" y1="164.8" x2="317.9" y2="166.6" stroke="#222" stroke-width="0.7"/>
<line x1="322.7" y1="164.8" x2="322.7" y2="166.6" stroke="#222" stroke-width="0.7"/>
<line x1="327.5" y1="164.8" x2="327.5" y2="166.6" stroke="#222" stroke-width="0.7"/>
<line x1="332.3" y1="164.8" x2="332.3" y2="166.6" stroke="#222" stroke-width="0.7"/>
<line x1="337.1" y1="164.8" x2="337.1" y2="166.6" stroke="#222" stroke-width="0.7"/>
<line x1="341.9" y1="164.8" x2="341.9" y2="166.6" stroke="#222" stroke-width="0.7"/>
<line x1="346.7" y1="164.8" x2="346.7" y2="166.6" stroke="#222" stroke-width="0.7"/>
<line x1="351.5" y1="164.8" x2="351.5" y2="166.6" stroke="#222" stroke-width="0.7"/>
<line x1="356.3" y1="164.8" x2="356.3" y2="166.6" stroke="#222" stroke-width="0.7"/>
<line x1="361.1" y1="164.8" x2="361.1" y2="166.6" stroke="#222" stroke-width="0.7"/>
<line x1="208.3" y1="164.8" x2="210.1" y2="164.8" stroke="#222" stroke-width="0.7"/>
<text x="206.8" y="166.69" font-size="5.34" text-anchor="end" textLength="12.06" lengthAdjust="spacingAndGlyphs" fill="#000">0.00</text>
<line x1="208.3" y1="137.9" x2="210.1" y2="137.9" stroke="#222" stroke-width="0.7"/>
<text x="206.8" y="139.79" font-size="5.34" text-anchor="end" textLength="12.06" lengthAdjust="spacingAndGlyphs" fill="#000">0.05</text>
<line x1="208.3" y1="111" x2="210.1" y2="111" stroke="#222" stroke-width="0.7"/>
<text x="206.8" y="112.89" font-size="5.34" text-anchor="end" textLength="12.06" lengthAdjust="spacingAndGlyphs" fill="#000">0.10</text>
<line x1="208.3" y1="84.1" x2="210.1" y2="84.1" stroke="#222" stroke-width="0.7"/>
<text x="206.8" y="85.99" font-size="5.34" text-anchor="end" textLength="12.06" lengthAdjust="spacingAndGlyphs" fill="#000">0.15</text>
<line x1="208.3" y1="57.2" x2="210.1" y2="57.2" stroke="#222" stroke-width="0.7"/>
<text x="206.8" y="59.09" font-size="5.34" text-anchor="end" textLength="12.06" lengthAdjust="spacingAndGlyphs" fill="#000">0.20</text>
<line x1="208.3" y1="30.3" x2="210.1" y2="30.3" stroke="#222" stroke-width="0.7"/>
<text x="206.8" y="32.19" font-size="5.34" text-anchor="end" textLength="12.06" lengthAdjust="spacingAndGlyphs" fill="#000">0.25</text>
<text font-size="2.9" text-anchor="end" textLength="4.35" lengthAdjust="spacingAndGlyphs" fill="#444" style="stroke:none" transform="translate(213.05 168.8) rotate(-90)">220</text>
<text font-size="2.9" text-anchor="end" textLength="4.35" lengthAdjust="spacingAndGlyphs" fill="#444" style="stroke:none" transform="translate(217.85 168.8) rotate(-90)">273</text>
<text font-size="2.9" text-anchor="end" textLength="4.35" lengthAdjust="spacingAndGlyphs" fill="#444" style="stroke:none" transform="translate(222.65 168.8) rotate(-90)">326</text>
<text font-size="2.9" text-anchor="end" textLength="4.35" lengthAdjust="spacingAndGlyphs" fill="#444" style="stroke:none" transform="translate(227.45 168.8) rotate(-90)">379</text>
<text font-size="2.9" text-anchor="end" textLength="5.8" lengthAdjust="spacingAndGlyphs" fill="#444" style="stroke:none" transform="translate(232.25 168.8) rotate(-90)">2234</text>
<text font-size="2.9" text-anchor="end" textLength="5.8" lengthAdjust="spacingAndGlyphs" fill="#444" style="stroke:none" transform="translate(237.05 168.8) rotate(-90)">2965</text>
<text font-size="2.9" text-anchor="end" textLength="5.8" lengthAdjust="spacingAndGlyphs" fill="#444" style="stroke:none" transform="translate(241.85 168.8) rotate(-90)">3696</text>
<text font-size="2.9" text-anchor="end" textLength="5.8" lengthAdjust="spacingAndGlyphs" fill="#444" style="stroke:none" transform="translate(246.65 168.8) rotate(-90)">4427</text>
<text font-size="2.9" text-anchor="end" textLength="5.8" lengthAdjust="spacingAndGlyphs" fill="#444" style="stroke:none" transform="translate(251.45 168.8) rotate(-90)">5158</text>
<text font-size="2.9" text-anchor="end" textLength="5.8" lengthAdjust="spacingAndGlyphs" fill="#444" style="stroke:none" transform="translate(256.25 168.8) rotate(-90)">5889</text>
<text font-size="2.9" text-anchor="end" textLength="5.8" lengthAdjust="spacingAndGlyphs" fill="#444" style="stroke:none" transform="translate(261.05 168.8) rotate(-90)">6620</text>
<text font-size="2.9" text-anchor="end" textLength="5.8" lengthAdjust="spacingAndGlyphs" fill="#444" style="stroke:none" transform="translate(265.85 168.8) rotate(-90)">7351</text>
<text font-size="2.9" text-anchor="end" textLength="5.8" lengthAdjust="spacingAndGlyphs" fill="#444" style="stroke:none" transform="translate(270.65 168.8) rotate(-90)">8082</text>
<text font-size="2.9" text-anchor="end" textLength="5.8" lengthAdjust="spacingAndGlyphs" fill="#444" style="stroke:none" transform="translate(275.45 168.8) rotate(-90)">8813</text>
<text font-size="2.9" text-anchor="end" textLength="5.8" lengthAdjust="spacingAndGlyphs" fill="#444" style="stroke:none" transform="translate(280.25 168.8) rotate(-90)">9544</text>
<text font-size="2.9" text-anchor="end" textLength="5.8" lengthAdjust="spacingAndGlyphs" fill="#444" style="stroke:none" transform="translate(285.05 168.8) rotate(-90)">1275</text>
<text font-size="2.9" text-anchor="end" textLength="5.8" lengthAdjust="spacingAndGlyphs" fill="#444" style="stroke:none" transform="translate(289.85 168.8) rotate(-90)">2006</text>
<text font-size="2.9" text-anchor="end" textLength="5.8" lengthAdjust="spacingAndGlyphs" fill="#444" style="stroke:none" transform="translate(294.65 168.8) rotate(-90)">2737</text>
<text font-size="2.9" text-anchor="end" textLength="5.8" lengthAdjust="spacingAndGlyphs" fill="#444" style="stroke:none" transform="translate(299.45 168.8) rotate(-90)">3468</text>
<text font-size="2.9" text-anchor="end" textLength="5.8" lengthAdjust="spacingAndGlyphs" fill="#444" style="stroke:none" transform="translate(304.25 168.8) rotate(-90)">4199</text>
<text font-size="2.9" text-anchor="end" textLength="5.8" lengthAdjust="spacingAndGlyphs" fill="#444" style="stroke:none" transform="translate(309.05 168.8) rotate(-90)">4930</text>
<text font-size="2.9" text-anchor="end" textLength="5.8" lengthAdjust="spacingAndGlyphs" fill="#444" style="stroke:none" transform="translate(313.85 168.8) rotate(-90)">5661</text>
<text font-size="2.9" text-anchor="end" textLength="5.8" lengthAdjust="spacingAndGlyphs" fill="#444" style="stroke:none" transform="translate(318.65 168.8) rotate(-90)">6392</text>
<text font-size="2.9" text-anchor="end" textLength="5.8" lengthAdjust="spacingAndGlyphs" fill="#444" style="stroke:none" transform="translate(323.45 168.8) rotate(-90)">7123</text>
<text font-size="2.9" text-anchor="end" textLength="5.8" lengthAdjust="spacingAndGlyphs" fill="#444" style="stroke:none" transform="translate(328.25 168.8) rotate(-90)">7854</text>
<text font-size="2.9" text-anchor="end" textLength="5.8" lengthAdjust="spacingAndGlyphs" fill="#444" style="stroke:none" transform="translate(333.05 168.8) rotate(-90)">8585</text>
<text font-size="2.9" text-anchor="end" textLength="5.8" lengthAdjust="spacingAndGlyphs" fill="#444" style="stroke:none" transform="translate(337.85 168.8) rotate(-90)">9316</text>
<text font-size="2.9" text-anchor="end" textLength="5.8" lengthAdjust="spacingAndGlyphs" fill="#444" style="stroke:none" transform="translate(342.65 168.8) rotate(-90)">1047</text>
<text font-size="2.9" text-anchor="end" textLength="5.8" lengthAdjust="spacingAndGlyphs" fill="#444" style="stroke:none" transform="translate(347.45 168.8) rotate(-90)">1778</text>
<text font-size="2.9" text-anchor="end" textLength="5.8" lengthAdjust="spacingAndGlyphs" fill="#444" style="stroke:none" transform="translate(352.25 168.8) rotate(-90)">2509</text>
<text font-size="2.9" text-anchor="end" textLength="5.8" lengthAdjust="spacingAndGlyphs" fill="#444" style="stroke:none" transform="translate(357.05 168.8) rotate(-90)">3240</text>
<text font-size="2.9" text-anchor="end" textLength="5.8" lengthAdjust="spacingAndGlyphs" fill="#444" style="stroke:none" transform="translate(361.85 168.8) rotate(-90)">3971</text>
<text x="286.55" y="10.7" font-size="6.41" text-anchor="middle" textLength="108.45" lengthAdjust="spacingAndGlyphs" fill="#000">logon Pc feature PMF comparison</text>
<text x="286.55" y="17.6" font-size="6.41" text-anchor="middle" textLength="92.01" lengthAdjust="spacingAndGlyphs" fill="#000">real data VS generated data</text>
<text x="286.55" y="24.3" font-size="6.41" text-anchor="middle" textLength="106.52" lengthAdjust="spacingAndGlyphs" fill="#000">with optimized hyperparameters</text>
<text x="286.55" y="180.8" font-size="5.34" text-anchor="middle" textLength="13.73" lengthAdjust="spacingAndGlyphs" fill="#000">Pc ID</text>
<text x="0" y="0" font-size="5.69" text-anchor="middle" textLength="10.38" lengthAdjust="spacingAndGlyphs" fill="#000" transform="translate(191.7 96.8) rotate(-90)">PMF</text>
<rect x="312.4" y="30.6" width="47.1" height="16.7" rx="1" ry="1" fill="#fff" fill-opacity="0.8" stroke="#ccc" stroke-width="0.5"/>
<rect x="314.3" y="33.1" width="10.9" height="3.3" fill="#ff0000" fill-opacity="0.5"/>
<rect x="314.3" y="40.7" width="10.9" height="3.6" fill="#0000ff" fill-opacity="0.5"/>
<text x="329.7" y="36.6" font-size="5.34" text-anchor="start" textLength="10.26" lengthAdjust="spacingAndGlyphs" fill="#000">real</text>
<text x="329.7" y="44" font-size="5.34" text-anchor="start" textLength="27.98" lengthAdjust="spacingAndGlyphs" fill="#000">generated</text>
</g>
<g>
<rect x="389.1" y="37.4" width="61.5" height="130.5" fill="#ff0000" fill-opacity="0.5"/>
<rect x="389.1" y="35.3" width="61.5" height="132.6" fill="#0000ff" fill-opacity="0.5"/>
<rect x="481.2" y="145.3" width="61.2" height="22.6" fill="#ff0000" fill-opacity="0.5"/>
<rect x="481.2" y="147.5" width="61.2" height="20.4" fill="#0000ff" fill-opacity="0.5"/>
<rect x="389.1" y="28.4" width="153.3" height="139.5" fill="none" stroke="#333" stroke-width="0.55"/>
<line x1="389.1" y1="167.9" x2="389.1" y2="169.7" stroke="#222" stroke-width="0.7"/>
<line x1="542.4" y1="167.9" x2="542.4" y2="169.7" stroke="#222" stroke-width="0.7"/>
<line x1="387.3" y1="167.9" x2="389.1" y2="167.9" stroke="#222" stroke-width="0.7"/>
<text x="385.8" y="169.79" font-size="5.34" text-anchor="end" textLength="8.22" lengthAdjust="spacingAndGlyphs" fill="#000">0.0</text>
<line x1="387.3" y1="137.24" x2="389.1" y2="137.24" stroke="#222" stroke-width="0.7"/>
<text x="385.8" y="139.13" font-size="5.34" text-anchor="end" textLength="8.22" lengthAdjust="spacingAndGlyphs" fill="#000">0.2</text>
<line x1="387.3" y1="106.58" x2="389.1" y2="106.58" stroke="#222" stroke-width="0.7"/>
<text x="385.8" y="108.47" font-size="5.34" text-anchor="end" textLength="8.22" lengthAdjust="spacingAndGlyphs" fill="#000">0.4</text>
<line x1="387.3" y1="75.92" x2="389.1" y2="75.92" stroke="#222" stroke-width="0.7"/>
<text x="385.8" y="77.81" font-size="5.34" text-anchor="end" textLength="8.22" lengthAdjust="spacingAndGlyphs" fill="#000">0.6</text>
<line x1="387.3" y1="45.26" x2="389.1" y2="45.26" stroke="#222" stroke-width="0.7"/>
<text x="385.8" y="47.15" font-size="5.34" text-anchor="end" textLength="8.22" lengthAdjust="spacingAndGlyphs" fill="#000">0.8</text>
<text x="389.1" y="173.9" font-size="1.78" text-anchor="middle" textLength="4.33" lengthAdjust="spacingAndGlyphs" fill="#000">2010</text>
<text x="542.4" y="173.9" font-size="1.78" text-anchor="middle" textLength="4.33" lengthAdjust="spacingAndGlyphs" fill="#000">2011</text>
<text x="465.75" y="11.2" font-size="6.41" text-anchor="middle" textLength="110.13" lengthAdjust="spacingAndGlyphs" fill="#000">logon year feature PMF comparison</text>
<text x="465.75" y="18.05" font-size="6.41" text-anchor="middle" textLength="87.76" lengthAdjust="spacingAndGlyphs" fill="#000">real data VS generated data</text>
<text x="465.75" y="24.9" font-size="6.41" text-anchor="middle" textLength="101.6" lengthAdjust="spacingAndGlyphs" fill="#000">with optimized hyperparameters</text>
<text x="465.75" y="181.2" font-size="5.07" text-anchor="middle" textLength="10.61" lengthAdjust="spacingAndGlyphs" fill="#000">Year</text>
<text x="0" y="0" font-size="5.43" text-anchor="middle" textLength="10.38" lengthAdjust="spacingAndGlyphs" fill="#000" transform="translate(374.5 99.3) rotate(-90)">PMF</text>
<rect x="493.7" y="30.9" width="45.8" height="17.5" rx="1" ry="1" fill="#fff" fill-opacity="0.8" stroke="#ccc" stroke-width="0.5"/>
<rect x="495.7" y="33.6" width="10.2" height="3.3" fill="#ff0000" fill-opacity="0.5"/>
<rect x="495.7" y="41.6" width="10.2" height="3.4" fill="#0000ff" fill-opacity="0.5"/>
<text x="510.1" y="37.2" font-size="5.34" text-anchor="start" textLength="11.14" lengthAdjust="spacingAndGlyphs" fill="#000">Real</text>
<text x="510.1" y="45.1" font-size="5.34" text-anchor="start" textLength="27.41" lengthAdjust="spacingAndGlyphs" fill="#000">Generated</text>
</g>
<g>
<rect x="27.48" y="328.2" width="10.23" height="22.8" fill="#ff0000" fill-opacity="0.5"/>
<rect x="40.26" y="310.9" width="10.23" height="40.1" fill="#ff0000" fill-opacity="0.5"/>
<rect x="53.05" y="345.7" width="10.23" height="5.3" fill="#ff0000" fill-opacity="0.5"/>
<rect x="65.83" y="333.2" width="10.23" height="17.8" fill="#ff0000" fill-opacity="0.5"/>
<rect x="91.4" y="316.9" width="10.23" height="34.1" fill="#ff0000" fill-opacity="0.5"/>
<rect x="104.18" y="230.9" width="10.23" height="120.1" fill="#ff0000" fill-opacity="0.5"/>
<rect x="116.96" y="294.2" width="10.23" height="56.8" fill="#ff0000" fill-opacity="0.5"/>
<rect x="129.74" y="265.6" width="10.23" height="85.4" fill="#ff0000" fill-opacity="0.5"/>
<rect x="142.53" y="247.4" width="10.23" height="103.6" fill="#ff0000" fill-opacity="0.5"/>
<rect x="155.31" y="311" width="10.23" height="40" fill="#ff0000" fill-opacity="0.5"/>
<rect x="168.09" y="311" width="10.23" height="40" fill="#ff0000" fill-opacity="0.5"/>
<rect x="27.48" y="316" width="10.23" height="35" fill="#0000ff" fill-opacity="0.5"/>
<rect x="40.26" y="315" width="10.23" height="36" fill="#0000ff" fill-opacity="0.5"/>
<rect x="53.05" y="343.9" width="10.23" height="7.1" fill="#0000ff" fill-opacity="0.5"/>
<rect x="65.83" y="332.8" width="10.23" height="18.2" fill="#0000ff" fill-opacity="0.5"/>
<rect x="91.4" y="337.2" width="10.23" height="13.8" fill="#0000ff" fill-opacity="0.5"/>
<rect x="104.18" y="217.9" width="10.23" height="133.1" fill="#0000ff" fill-opacity="0.5"/>
<rect x="116.96" y="298.3" width="10.23" height="52.7" fill="#0000ff" fill-opacity="0.5"/>
<rect x="129.74" y="282.5" width="10.23" height="68.5" fill="#0000ff" fill-opacity="0.5"/>
<rect x="142.53" y="247.6" width="10.23" height="103.4" fill="#0000ff" fill-opacity="0.5"/>
<rect x="155.31" y="295.7" width="10.23" height="55.3" fill="#0000ff" fill-opacity="0.5"/>
<rect x="168.09" y="309.2" width="10.23" height="41.8" fill="#0000ff" fill-opacity="0.5"/>
<rect x="26.2" y="211.2" width="153.4" height="139.8" fill="none" stroke="#333" stroke-width="0.55"/>
<line x1="32.59" y1="351" x2="32.59" y2="352.8" stroke="#222" stroke-width="0.7"/>
<line x1="45.38" y1="351" x2="45.38" y2="352.8" stroke="#222" stroke-width="0.7"/>
<line x1="58.16" y1="351" x2="58.16" y2="352.8" stroke="#222" stroke-width="0.7"/>
<line x1="70.94" y1="351" x2="70.94" y2="352.8" stroke="#222" stroke-width="0.7"/>
<line x1="83.72" y1="351" x2="83.72" y2="352.8" stroke="#222" stroke-width="0.7"/>
<line x1="96.51" y1="351" x2="96.51" y2="352.8" stroke="#222" stroke-width="0.7"/>
<line x1="109.29" y1="351" x2="109.29" y2="352.8" stroke="#222" stroke-width="0.7"/>
<line x1="122.08" y1="351" x2="122.08" y2="352.8" stroke="#222" stroke-width="0.7"/>
<line x1="134.86" y1="351" x2="134.86" y2="352.8" stroke="#222" stroke-width="0.7"/>
<line x1="147.64" y1="351" x2="147.64" y2="352.8" stroke="#222" stroke-width="0.7"/>
<line x1="160.42" y1="351" x2="160.42" y2="352.8" stroke="#222" stroke-width="0.7"/>
<line x1="173.21" y1="351" x2="173.21" y2="352.8" stroke="#222" stroke-width="0.7"/>
<line x1="24.4" y1="351" x2="26.2" y2="351" stroke="#222" stroke-width="0.7"/>
<text x="22.9" y="352.9" font-size="5.38" text-anchor="end" textLength="11.5" lengthAdjust="spacingAndGlyphs" fill="#000">0.00</text>
<line x1="24.4" y1="322.7" x2="26.2" y2="322.7" stroke="#222" stroke-width="0.7"/>
<text x="22.9" y="324.6" font-size="5.38" text-anchor="end" textLength="11.5" lengthAdjust="spacingAndGlyphs" fill="#000">0.05</text>
<line x1="24.4" y1="294.4" x2="26.2" y2="294.4" stroke="#222" stroke-width="0.7"/>
<text x="22.9" y="296.3" font-size="5.38" text-anchor="end" textLength="11.5" lengthAdjust="spacingAndGlyphs" fill="#000">0.10</text>
<line x1="24.4" y1="266.1" x2="26.2" y2="266.1" stroke="#222" stroke-width="0.7"/>
<text x="22.9" y="268" font-size="5.38" text-anchor="end" textLength="11.5" lengthAdjust="spacingAndGlyphs" fill="#000">0.15</text>
<line x1="24.4" y1="237.8" x2="26.2" y2="237.8" stroke="#222" stroke-width="0.7"/>
<text x="22.9" y="239.7" font-size="5.38" text-anchor="end" textLength="11.5" lengthAdjust="spacingAndGlyphs" fill="#000">0.20</text>
<text x="32.59" y="357.1" font-size="3.1" text-anchor="middle" textLength="1.35" lengthAdjust="spacingAndGlyphs" fill="#333" style="stroke:none">1</text>
<text x="45.38" y="357.1" font-size="3.1" text-anchor="middle" textLength="1.35" lengthAdjust="spacingAndGlyphs" fill="#333" style="stroke:none">2</text>
<text x="58.16" y="357.1" font-size="3.1" text-anchor="middle" textLength="1.35" lengthAdjust="spacingAndGlyphs" fill="#333" style="stroke:none">3</text>
<text x="70.94" y="357.1" font-size="3.1" text-anchor="middle" textLength="1.35" lengthAdjust="spacingAndGlyphs" fill="#333" style="stroke:none">4</text>
<text x="83.72" y="357.1" font-size="3.1" text-anchor="middle" textLength="1.35" lengthAdjust="spacingAndGlyphs" fill="#333" style="stroke:none">5</text>
<text x="96.51" y="357.1" font-size="3.1" text-anchor="middle" textLength="1.35" lengthAdjust="spacingAndGlyphs" fill="#333" style="stroke:none">6</text>
<text x="109.29" y="357.1" font-size="3.1" text-anchor="middle" textLength="1.35" lengthAdjust="spacingAndGlyphs" fill="#333" style="stroke:none">7</text>
<text x="122.08" y="357.1" font-size="3.1" text-anchor="middle" textLength="1.35" lengthAdjust="spacingAndGlyphs" fill="#333" style="stroke:none">8</text>
<text x="134.86" y="357.1" font-size="3.1" text-anchor="middle" textLength="1.35" lengthAdjust="spacingAndGlyphs" fill="#333" style="stroke:none">9</text>
<text x="147.64" y="357.1" font-size="3.1" text-anchor="middle" textLength="2.7" lengthAdjust="spacingAndGlyphs" fill="#333" style="stroke:none">10</text>
<text x="160.42" y="357.1" font-size="3.1" text-anchor="middle" textLength="2.7" lengthAdjust="spacingAndGlyphs" fill="#333" style="stroke:none">11</text>
<text x="173.21" y="357.1" font-size="3.1" text-anchor="middle" textLength="2.7" lengthAdjust="spacingAndGlyphs" fill="#333" style="stroke:none">12</text>
<text x="102.9" y="193.8" font-size="6.46" text-anchor="middle" textLength="116.42" lengthAdjust="spacingAndGlyphs" fill="#000">logon month feature PMF comparison</text>
<text x="102.9" y="200.7" font-size="6.46" text-anchor="middle" textLength="87.76" lengthAdjust="spacingAndGlyphs" fill="#000">real data VS generated data</text>
<text x="102.9" y="207.6" font-size="6.46" text-anchor="middle" textLength="101.6" lengthAdjust="spacingAndGlyphs" fill="#000">with optimized hyperparameters</text>
<text x="102.9" y="363.8" font-size="5.38" text-anchor="middle" textLength="16.19" lengthAdjust="spacingAndGlyphs" fill="#000">Month</text>
<text x="0" y="0" font-size="5.43" text-anchor="middle" textLength="10.46" lengthAdjust="spacingAndGlyphs" fill="#000" transform="translate(8.2 282) rotate(-90)">PMF</text>
<rect x="130.3" y="213.6" width="46.6" height="17.4" rx="1" ry="1" fill="#fff" fill-opacity="0.8" stroke="#ccc" stroke-width="0.5"/>
<rect x="132.7" y="216.6" width="10.2" height="3.1" fill="#ff0000" fill-opacity="0.5"/>
<rect x="132.7" y="224.4" width="10.2" height="3.4" fill="#0000ff" fill-opacity="0.5"/>
<text x="147.2" y="220.1" font-size="5.38" text-anchor="start" textLength="11.14" lengthAdjust="spacingAndGlyphs" fill="#000">Real</text>
<text x="147.2" y="228.1" font-size="5.38" text-anchor="start" textLength="27.41" lengthAdjust="spacingAndGlyphs" fill="#000">Generated</text>
</g>
<g>
<rect x="209.7" y="316.2" width="3.96" height="34.7" fill="#ff0000" fill-opacity="0.5"/>
<rect x="214.65" y="307.6" width="3.96" height="43.3" fill="#ff0000" fill-opacity="0.5"/>
<rect x="219.6" y="342.8" width="3.96" height="8.1" fill="#ff0000" fill-opacity="0.5"/>
<rect x="224.55" y="316.3" width="3.96" height="34.6" fill="#ff0000" fill-opacity="0.5"/>
<rect x="229.5" y="281.1" width="3.96" height="69.8" fill="#ff0000" fill-opacity="0.5"/>
<rect x="234.45" y="316.2" width="3.96" height="34.7" fill="#ff0000" fill-opacity="0.5"/>
<rect x="239.4" y="307.6" width="3.96" height="43.3" fill="#ff0000" fill-opacity="0.5"/>
<rect x="244.36" y="307.6" width="3.96" height="43.3" fill="#ff0000" fill-opacity="0.5"/>
<rect x="249.31" y="281.1" width="3.96" height="69.8" fill="#ff0000" fill-opacity="0.5"/>
<rect x="254.26" y="263.6" width="3.96" height="87.3" fill="#ff0000" fill-opacity="0.5"/>
<rect x="259.21" y="254.7" width="3.96" height="96.2" fill="#ff0000" fill-opacity="0.5"/>
<rect x="264.16" y="263.6" width="3.96" height="87.3" fill="#ff0000" fill-opacity="0.5"/>
<rect x="269.11" y="263.6" width="3.96" height="87.3" fill="#ff0000" fill-opacity="0.5"/>
<rect x="274.07" y="254.7" width="3.96" height="96.2" fill="#ff0000" fill-opacity="0.5"/>
<rect x="279.02" y="228.4" width="3.96" height="122.5" fill="#ff0000" fill-opacity="0.5"/>
<rect x="283.97" y="316.3" width="3.96" height="34.6" fill="#ff0000" fill-opacity="0.5"/>
<rect x="288.92" y="324" width="3.96" height="26.9" fill="#ff0000" fill-opacity="0.5"/>
<rect x="293.87" y="289.9" width="3.96" height="61" fill="#ff0000" fill-opacity="0.5"/>
<rect x="298.82" y="325.1" width="3.96" height="25.8" fill="#ff0000" fill-opacity="0.5"/>
<rect x="303.78" y="289.9" width="3.96" height="61" fill="#ff0000" fill-opacity="0.5"/>
<rect x="308.73" y="298.9" width="3.96" height="52" fill="#ff0000" fill-opacity="0.5"/>
<rect x="313.68" y="289.9" width="3.96" height="61" fill="#ff0000" fill-opacity="0.5"/>
<rect x="318.63" y="237.6" width="3.96" height="113.3" fill="#ff0000" fill-opacity="0.5"/>
<rect x="323.58" y="324.8" width="3.96" height="26.1" fill="#ff0000" fill-opacity="0.5"/>
<rect x="328.53" y="316.1" width="3.96" height="34.8" fill="#ff0000" fill-opacity="0.5"/>
<rect x="333.49" y="342.8" width="3.96" height="8.1" fill="#ff0000" fill-opacity="0.5"/>
<rect x="338.44" y="316.1" width="3.96" height="34.8" fill="#ff0000" fill-opacity="0.5"/>
<rect x="343.39" y="307.3" width="3.96" height="43.6" fill="#ff0000" fill-opacity="0.5"/>
<rect x="348.34" y="246.1" width="3.96" height="104.8" fill="#ff0000" fill-opacity="0.5"/>
<rect x="353.29" y="289.9" width="3.96" height="61" fill="#ff0000" fill-opacity="0.5"/>
<rect x="358.24" y="333.8" width="3.96" height="17.1" fill="#ff0000" fill-opacity="0.5"/>
<rect x="209.7" y="322.2" width="3.96" height="28.7" fill="#0000ff" fill-opacity="0.5"/>
<rect x="214.65" y="299.1" width="3.96" height="51.8" fill="#0000ff" fill-opacity="0.5"/>
<rect x="219.6" y="333" width="3.96" height="17.9" fill="#0000ff" fill-opacity="0.5"/>
<rect x="224.55" y="314.5" width="3.96" height="36.4" fill="#0000ff" fill-opacity="0.5"/>
<rect x="229.5" y="269.4" width="3.96" height="81.5" fill="#0000ff" fill-opacity="0.5"/>
<rect x="234.45" y="323" width="3.96" height="27.9" fill="#0000ff" fill-opacity="0.5"/>
<rect x="239.4" y="311.4" width="3.96" height="39.5" fill="#0000ff" fill-opacity="0.5"/>
<rect x="244.36" y="312" width="3.96" height="38.9" fill="#0000ff" fill-opacity="0.5"/>
<rect x="249.31" y="304.3" width="3.96" height="46.6" fill="#0000ff" fill-opacity="0.5"/>
<rect x="254.26" y="297" width="3.96" height="53.9" fill="#0000ff" fill-opacity="0.5"/>
<rect x="259.21" y="235.1" width="3.96" height="115.8" fill="#0000ff" fill-opacity="0.5"/>
<rect x="264.16" y="251.8" width="3.96" height="99.1" fill="#0000ff" fill-opacity="0.5"/>
<rect x="269.11" y="290.4" width="3.96" height="60.5" fill="#0000ff" fill-opacity="0.5"/>
<rect x="274.07" y="280.1" width="3.96" height="70.8" fill="#0000ff" fill-opacity="0.5"/>
<rect x="279.02" y="238.4" width="3.96" height="112.5" fill="#0000ff" fill-opacity="0.5"/>
<rect x="283.97" y="317.1" width="3.96" height="33.8" fill="#0000ff" fill-opacity="0.5"/>
<rect x="288.92" y="324" width="3.96" height="26.9" fill="#0000ff" fill-opacity="0.5"/>
<rect x="293.87" y="299.1" width="3.96" height="51.8" fill="#0000ff" fill-opacity="0.5"/>
<rect x="298.82" y="316.3" width="3.96" height="34.6" fill="#0000ff" fill-opacity="0.5"/>
<rect x="303.78" y="281.8" width="3.96" height="69.1" fill="#0000ff" fill-opacity="0.5"/>
<rect x="308.73" y="273.5" width="3.96" height="77.4" fill="#0000ff" fill-opacity="0.5"/>
<rect x="313.68" y="310.9" width="3.96" height="40" fill="#0000ff" fill-opacity="0.5"/>
<rect x="318.63" y="217.9" width="3.96" height="133" fill="#0000ff" fill-opacity="0.5"/>
<rect x="323.58" y="311.8" width="3.96" height="39.1" fill="#0000ff" fill-opacity="0.5"/>
<rect x="328.53" y="311.9" width="3.96" height="39" fill="#0000ff" fill-opacity="0.5"/>
<rect x="333.49" y="338.1" width="3.96" height="12.8" fill="#0000ff" fill-opacity="0.5"/>
<rect x="338.44" y="308.9" width="3.96" height="42" fill="#0000ff" fill-opacity="0.5"/>
<rect x="343.39" y="313" width="3.96" height="37.9" fill="#0000ff" fill-opacity="0.5"/>
<rect x="348.34" y="264.5" width="3.96" height="86.4" fill="#0000ff" fill-opacity="0.5"/>
<rect x="353.29" y="304.8" width="3.96" height="46.1" fill="#0000ff" fill-opacity="0.5"/>
<rect x="358.24" y="274.6" width="3.96" height="76.3" fill="#0000ff" fill-opacity="0.5"/>
<rect x="209.2" y="211.8" width="153.5" height="139.1" fill="none" stroke="#333" stroke-width="0.55"/>
<line x1="211.68" y1="350.9" x2="211.68" y2="352.7" stroke="#222" stroke-width="0.7"/>
<line x1="216.63" y1="350.9" x2="216.63" y2="352.7" stroke="#222" stroke-width="0.7"/>
<line x1="221.58" y1="350.9" x2="221.58" y2="352.7" stroke="#222" stroke-width="0.7"/>
<line x1="226.53" y1="350.9" x2="226.53" y2="352.7" stroke="#222" stroke-width="0.7"/>
<line x1="231.48" y1="350.9" x2="231.48" y2="352.7" stroke="#222" stroke-width="0.7"/>
<line x1="236.43" y1="350.9" x2="236.43" y2="352.7" stroke="#222" stroke-width="0.7"/>
<line x1="241.39" y1="350.9" x2="241.39" y2="352.7" stroke="#222" stroke-width="0.7"/>
<line x1="246.34" y1="350.9" x2="246.34" y2="352.7" stroke="#222" stroke-width="0.7"/>
<line x1="251.29" y1="350.9" x2="251.29" y2="352.7" stroke="#222" stroke-width="0.7"/>
<line x1="256.24" y1="350.9" x2="256.24" y2="352.7" stroke="#222" stroke-width="0.7"/>
<line x1="261.19" y1="350.9" x2="261.19" y2="352.7" stroke="#222" stroke-width="0.7"/>
<line x1="266.14" y1="350.9" x2="266.14" y2="352.7" stroke="#222" stroke-width="0.7"/>
<line x1="271.1" y1="350.9" x2="271.1" y2="352.7" stroke="#222" stroke-width="0.7"/>
<line x1="276.05" y1="350.9" x2="276.05" y2="352.7" stroke="#222" stroke-width="0.7"/>
<line x1="281" y1="350.9" x2="281" y2="352.7" stroke="#222" stroke-width="0.7"/>
<line x1="285.95" y1="350.9" x2="285.95" y2="352.7" stroke="#222" stroke-width="0.7"/>
<line x1="290.9" y1="350.9" x2="290.9" y2="352.7" stroke="#222" stroke-width="0.7"/>
<line x1="295.85" y1="350.9" x2="295.85" y2="352.7" stroke="#222" stroke-width="0.7"/>
<line x1="300.8" y1="350.9" x2="300.8" y2="352.7" stroke="#222" stroke-width="0.7"/>
<line x1="305.76" y1="350.9" x2="305.76" y2="352.7" stroke="#222" stroke-width="0.7"/>
<line x1="310.71" y1="350.9" x2="310.71" y2="352.7" stroke="#222" stroke-width="0.7"/>
<line x1="315.66" y1="350.9" x2="315.66" y2="352.7" stroke="#222" stroke-width="0.7"/>
<line x1="320.61" y1="350.9" x2="320.61" y2="352.7" stroke="#222" stroke-width="0.7"/>
<line x1="325.56" y1="350.9" x2="325.56" y2="352.7" stroke="#222" stroke-width="0.7"/>
<line x1="330.51" y1="350.9" x2="330.51" y2="352.7" stroke="#222" stroke-width="0.7"/>
<line x1="335.47" y1="350.9" x2="335.47" y2="352.7" stroke="#222" stroke-width="0.7"/>
<line x1="340.42" y1="350.9" x2="340.42" y2="352.7" stroke="#222" stroke-width="0.7"/>
<line x1="345.37" y1="350.9" x2="345.37" y2="352.7" stroke="#222" stroke-width="0.7"/>
<line x1="350.32" y1="350.9" x2="350.32" y2="352.7" stroke="#222" stroke-width="0.7"/>
<line x1="355.27" y1="350.9" x2="355.27" y2="352.7" stroke="#222" stroke-width="0.7"/>
<line x1="360.22" y1="350.9" x2="360.22" y2="352.7" stroke="#222" stroke-width="0.7"/>
<line x1="207.4" y1="350.9" x2="209.2" y2="350.9" stroke="#222" stroke-width="0.7"/>
<text x="205.9" y="352.8" font-size="5.38" text-anchor="end" textLength="11.5" lengthAdjust="spacingAndGlyphs" fill="#000">0.00</text>
<line x1="207.4" y1="333.53" x2="209.2" y2="333.53" stroke="#222" stroke-width="0.7"/>
<text x="205.9" y="335.43" font-size="5.38" text-anchor="end" textLength="11.5" lengthAdjust="spacingAndGlyphs" fill="#000">0.01</text>
<line x1="207.4" y1="316.16" x2="209.2" y2="316.16" stroke="#222" stroke-width="0.7"/>
<text x="205.9" y="318.06" font-size="5.38" text-anchor="end" textLength="11.5" lengthAdjust="spacingAndGlyphs" fill="#000">0.02</text>
<line x1="207.4" y1="298.79" x2="209.2" y2="298.79" stroke="#222" stroke-width="0.7"/>
<text x="205.9" y="300.69" font-size="5.38" text-anchor="end" textLength="11.5" lengthAdjust="spacingAndGlyphs" fill="#000">0.03</text>
<line x1="207.4" y1="281.42" x2="209.2" y2="281.42" stroke="#222" stroke-width="0.7"/>
<text x="205.9" y="283.32" font-size="5.38" text-anchor="end" textLength="11.5" lengthAdjust="spacingAndGlyphs" fill="#000">0.04</text>
<line x1="207.4" y1="264.05" x2="209.2" y2="264.05" stroke="#222" stroke-width="0.7"/>
<text x="205.9" y="265.95" font-size="5.38" text-anchor="end" textLength="11.5" lengthAdjust="spacingAndGlyphs" fill="#000">0.05</text>
<line x1="207.4" y1="246.68" x2="209.2" y2="246.68" stroke="#222" stroke-width="0.7"/>
<text x="205.9" y="248.58" font-size="5.38" text-anchor="end" textLength="11.5" lengthAdjust="spacingAndGlyphs" fill="#000">0.06</text>
<line x1="207.4" y1="229.31" x2="209.2" y2="229.31" stroke="#222" stroke-width="0.7"/>
<text x="205.9" y="231.21" font-size="5.38" text-anchor="end" textLength="11.5" lengthAdjust="spacingAndGlyphs" fill="#000">0.07</text>
<line x1="207.4" y1="211.94" x2="209.2" y2="211.94" stroke="#222" stroke-width="0.7"/>
<text x="205.9" y="213.84" font-size="5.38" text-anchor="end" textLength="11.5" lengthAdjust="spacingAndGlyphs" fill="#000">0.08</text>
<text x="211.68" y="357.1" font-size="3.1" text-anchor="middle" textLength="1.35" lengthAdjust="spacingAndGlyphs" fill="#333" style="stroke:none">1</text>
<text x="216.63" y="357.1" font-size="3.1" text-anchor="middle" textLength="1.35" lengthAdjust="spacingAndGlyphs" fill="#333" style="stroke:none">2</text>
<text x="221.58" y="357.1" font-size="3.1" text-anchor="middle" textLength="1.35" lengthAdjust="spacingAndGlyphs" fill="#333" style="stroke:none">3</text>
<text x="226.53" y="357.1" font-size="3.1" text-anchor="middle" textLength="1.35" lengthAdjust="spacingAndGlyphs" fill="#333" style="stroke:none">4</text>
<text x="231.48" y="357.1" font-size="3.1" text-anchor="middle" textLength="1.35" lengthAdjust="spacingAndGlyphs" fill="#333" style="stroke:none">5</text>
<text x="236.43" y="357.1" font-size="3.1" text-anchor="middle" textLength="1.35" lengthAdjust="spacingAndGlyphs" fill="#333" style="stroke:none">6</text>
<text x="241.39" y="357.1" font-size="3.1" text-anchor="middle" textLength="1.35" lengthAdjust="spacingAndGlyphs" fill="#333" style="stroke:none">7</text>
<text x="246.34" y="357.1" font-size="3.1" text-anchor="middle" textLength="1.35" lengthAdjust="spacingAndGlyphs" fill="#333" style="stroke:none">8</text>
<text x="251.29" y="357.1" font-size="3.1" text-anchor="middle" textLength="1.35" lengthAdjust="spacingAndGlyphs" fill="#333" style="stroke:none">9</text>
<text x="256.24" y="357.1" font-size="3.1" text-anchor="middle" textLength="2.7" lengthAdjust="spacingAndGlyphs" fill="#333" style="stroke:none">10</text>
<text x="261.19" y="357.1" font-size="3.1" text-anchor="middle" textLength="2.7" lengthAdjust="spacingAndGlyphs" fill="#333" style="stroke:none">11</text>
<text x="266.14" y="357.1" font-size="3.1" text-anchor="middle" textLength="2.7" lengthAdjust="spacingAndGlyphs" fill="#333" style="stroke:none">12</text>
<text x="271.1" y="357.1" font-size="3.1" text-anchor="middle" textLength="2.7" lengthAdjust="spacingAndGlyphs" fill="#333" style="stroke:none">13</text>
<text x="276.05" y="357.1" font-size="3.1" text-anchor="middle" textLength="2.7" lengthAdjust="spacingAndGlyphs" fill="#333" style="stroke:none">14</text>
<text x="281" y="357.1" font-size="3.1" text-anchor="middle" textLength="2.7" lengthAdjust="spacingAndGlyphs" fill="#333" style="stroke:none">15</text>
<text x="285.95" y="357.1" font-size="3.1" text-anchor="middle" textLength="2.7" lengthAdjust="spacingAndGlyphs" fill="#333" style="stroke:none">16</text>
<text x="290.9" y="357.1" font-size="3.1" text-anchor="middle" textLength="2.7" lengthAdjust="spacingAndGlyphs" fill="#333" style="stroke:none">17</text>
<text x="295.85" y="357.1" font-size="3.1" text-anchor="middle" textLength="2.7" lengthAdjust="spacingAndGlyphs" fill="#333" style="stroke:none">18</text>
<text x="300.8" y="357.1" font-size="3.1" text-anchor="middle" textLength="2.7" lengthAdjust="spacingAndGlyphs" fill="#333" style="stroke:none">19</text>
<text x="305.76" y="357.1" font-size="3.1" text-anchor="middle" textLength="2.7" lengthAdjust="spacingAndGlyphs" fill="#333" style="stroke:none">20</text>
<text x="310.71" y="357.1" font-size="3.1" text-anchor="middle" textLength="2.7" lengthAdjust="spacingAndGlyphs" fill="#333" style="stroke:none">21</text>
<text x="315.66" y="357.1" font-size="3.1" text-anchor="middle" textLength="2.7" lengthAdjust="spacingAndGlyphs" fill="#333" style="stroke:none">22</text>
<text x="320.61" y="357.1" font-size="3.1" text-anchor="middle" textLength="2.7" lengthAdjust="spacingAndGlyphs" fill="#333" style="stroke:none">23</text>
<text x="325.56" y="357.1" font-size="3.1" text-anchor="middle" textLength="2.7" lengthAdjust="spacingAndGlyphs" fill="#333" style="stroke:none">24</text>
<text x="330.51" y="357.1" font-size="3.1" text-anchor="middle" textLength="2.7" lengthAdjust="spacingAndGlyphs" fill="#333" style="stroke:none">25</text>
<text x="335.47" y="357.1" font-size="3.1" text-anchor="middle" textLength="2.7" lengthAdjust="spacingAndGlyphs" fill="#333" style="stroke:none">26</text>
<text x="340.42" y="357.1" font-size="3.1" text-anchor="middle" textLength="2.7" lengthAdjust="spacingAndGlyphs" fill="#333" style="stroke:none">27</text>
<text x="345.37" y="357.1" font-size="3.1" text-anchor="middle" textLength="2.7" lengthAdjust="spacingAndGlyphs" fill="#333" style="stroke:none">28</text>
<text x="350.32" y="357.1" font-size="3.1" text-anchor="middle" textLength="2.7" lengthAdjust="spacingAndGlyphs" fill="#333" style="stroke:none">29</text>
<text x="355.27" y="357.1" font-size="3.1" text-anchor="middle" textLength="2.7" lengthAdjust="spacingAndGlyphs" fill="#333" style="stroke:none">30</text>
<text x="360.22" y="357.1" font-size="3.1" text-anchor="middle" textLength="2.7" lengthAdjust="spacingAndGlyphs" fill="#333" style="stroke:none">31</text>
<text x="285.95" y="193.8" font-size="6.46" text-anchor="middle" textLength="107.7" lengthAdjust="spacingAndGlyphs" fill="#000">logon day feature PMF comparison</text>
<text x="285.95" y="200.7" font-size="6.46" text-anchor="middle" textLength="87.76" lengthAdjust="spacingAndGlyphs" fill="#000">real data VS generated data</text>
<text x="285.95" y="207.6" font-size="6.46" text-anchor="middle" textLength="101.6" lengthAdjust="spacingAndGlyphs" fill="#000">with optimized hyperparameters</text>
<text x="285.95" y="363.6" font-size="5.38" text-anchor="middle" textLength="10.2" lengthAdjust="spacingAndGlyphs" fill="#000">Day</text>
<text x="0" y="0" font-size="5.43" text-anchor="middle" textLength="10.46" lengthAdjust="spacingAndGlyphs" fill="#000" transform="translate(191 282) rotate(-90)">PMF</text>
<rect x="212.1" y="214" width="46.2" height="17.1" rx="1" ry="1" fill="#fff" fill-opacity="0.8" stroke="#ccc" stroke-width="0.5"/>
<rect x="214.1" y="216.9" width="10.4" height="3.1" fill="#ff0000" fill-opacity="0.5"/>
<rect x="214.1" y="224.4" width="10.4" height="3.7" fill="#0000ff" fill-opacity="0.5"/>
<text x="228.8" y="220.2" font-size="5.38" text-anchor="start" textLength="11.14" lengthAdjust="spacingAndGlyphs" fill="#000">Real</text>
<text x="228.8" y="228.2" font-size="5.38" text-anchor="start" textLength="27.41" lengthAdjust="spacingAndGlyphs" fill="#000">Generated</text>
</g>
<g>
<rect x="396.32" y="319.8" width="5" height="31.1" fill="#ff0000" fill-opacity="0.5"/>
<rect x="402.57" y="320.3" width="5" height="30.6" fill="#ff0000" fill-opacity="0.5"/>
<rect x="408.82" y="292.8" width="5" height="58.1" fill="#ff0000" fill-opacity="0.5"/>
<rect x="415.07" y="296.9" width="5" height="54" fill="#ff0000" fill-opacity="0.5"/>
<rect x="421.32" y="324.1" width="5" height="26.8" fill="#ff0000" fill-opacity="0.5"/>
<rect x="427.57" y="308.4" width="5" height="42.5" fill="#ff0000" fill-opacity="0.5"/>
<rect x="433.82" y="269.9" width="5" height="81" fill="#ff0000" fill-opacity="0.5"/>
<rect x="440.07" y="312.2" width="5" height="38.7" fill="#ff0000" fill-opacity="0.5"/>
<rect x="502.58" y="285.4" width="5" height="65.5" fill="#ff0000" fill-opacity="0.5"/>
<rect x="508.83" y="308.4" width="5" height="42.5" fill="#ff0000" fill-opacity="0.5"/>
<rect x="515.08" y="231" width="5" height="119.9" fill="#ff0000" fill-opacity="0.5"/>
<rect x="521.33" y="281.3" width="5" height="69.6" fill="#ff0000" fill-opacity="0.5"/>
<rect x="527.58" y="324" width="5" height="26.9" fill="#ff0000" fill-opacity="0.5"/>
<rect x="533.83" y="327.8" width="5" height="23.1" fill="#ff0000" fill-opacity="0.5"/>
<rect x="540.08" y="297.2" width="5" height="53.7" fill="#ff0000" fill-opacity="0.5"/>
<rect x="396.32" y="318.7" width="5" height="32.2" fill="#0000ff" fill-opacity="0.5"/>
<rect x="402.57" y="321.6" width="5" height="29.3" fill="#0000ff" fill-opacity="0.5"/>
<rect x="408.82" y="291.2" width="5" height="59.7" fill="#0000ff" fill-opacity="0.5"/>
<rect x="415.07" y="295.5" width="5" height="55.4" fill="#0000ff" fill-opacity="0.5"/>
<rect x="421.32" y="324.1" width="5" height="26.8" fill="#0000ff" fill-opacity="0.5"/>
<rect x="427.57" y="312.2" width="5" height="38.7" fill="#0000ff" fill-opacity="0.5"/>
<rect x="433.82" y="286" width="5" height="64.9" fill="#0000ff" fill-opacity="0.5"/>
<rect x="440.07" y="264.4" width="5" height="86.5" fill="#0000ff" fill-opacity="0.5"/>
<rect x="502.58" y="300.2" width="5" height="50.7" fill="#0000ff" fill-opacity="0.5"/>
<rect x="508.83" y="321.8" width="5" height="29.1" fill="#0000ff" fill-opacity="0.5"/>
<rect x="515.08" y="217.9" width="5" height="133" fill="#0000ff" fill-opacity="0.5"/>
<rect x="521.33" y="308.1" width="5" height="42.8" fill="#0000ff" fill-opacity="0.5"/>
<rect x="527.58" y="323.8" width="5" height="27.1" fill="#0000ff" fill-opacity="0.5"/>
<rect x="533.83" y="327.8" width="5" height="23.1" fill="#0000ff" fill-opacity="0.5"/>
<rect x="540.08" y="287.6" width="5" height="63.3" fill="#0000ff" fill-opacity="0.5"/>
<rect x="395.7" y="211.4" width="150" height="139.5" fill="none" stroke="#333" stroke-width="0.55"/>
<line x1="398.82" y1="350.9" x2="398.82" y2="352.7" stroke="#222" stroke-width="0.7"/>
<line x1="405.07" y1="350.9" x2="405.07" y2="352.7" stroke="#222" stroke-width="0.7"/>
<line x1="411.32" y1="350.9" x2="411.32" y2="352.7" stroke="#222" stroke-width="0.7"/>
<line x1="417.57" y1="350.9" x2="417.57" y2="352.7" stroke="#222" stroke-width="0.7"/>
<line x1="423.82" y1="350.9" x2="423.82" y2="352.7" stroke="#222" stroke-width="0.7"/>
<line x1="430.07" y1="350.9" x2="430.07" y2="352.7" stroke="#222" stroke-width="0.7"/>
<line x1="436.32" y1="350.9" x2="436.32" y2="352.7" stroke="#222" stroke-width="0.7"/>
<line x1="442.57" y1="350.9" x2="442.57" y2="352.7" stroke="#222" stroke-width="0.7"/>
<line x1="448.82" y1="350.9" x2="448.82" y2="352.7" stroke="#222" stroke-width="0.7"/>
<line x1="455.08" y1="350.9" x2="455.08" y2="352.7" stroke="#222" stroke-width="0.7"/>
<line x1="461.33" y1="350.9" x2="461.33" y2="352.7" stroke="#222" stroke-width="0.7"/>
<line x1="467.58" y1="350.9" x2="467.58" y2="352.7" stroke="#222" stroke-width="0.7"/>
<line x1="473.83" y1="350.9" x2="473.83" y2="352.7" stroke="#222" stroke-width="0.7"/>
<line x1="480.08" y1="350.9" x2="480.08" y2="352.7" stroke="#222" stroke-width="0.7"/>
<line x1="486.33" y1="350.9" x2="486.33" y2="352.7" stroke="#222" stroke-width="0.7"/>
<line x1="492.58" y1="350.9" x2="492.58" y2="352.7" stroke="#222" stroke-width="0.7"/>
<line x1="498.83" y1="350.9" x2="498.83" y2="352.7" stroke="#222" stroke-width="0.7"/>
<line x1="505.08" y1="350.9" x2="505.08" y2="352.7" stroke="#222" stroke-width="0.7"/>
<line x1="511.33" y1="350.9" x2="511.33" y2="352.7" stroke="#222" stroke-width="0.7"/>
<line x1="517.58" y1="350.9" x2="517.58" y2="352.7" stroke="#222" stroke-width="0.7"/>
<line x1="523.83" y1="350.9" x2="523.83" y2="352.7" stroke="#222" stroke-width="0.7"/>
<line x1="530.08" y1="350.9" x2="530.08" y2="352.7" stroke="#222" stroke-width="0.7"/>
<line x1="536.33" y1="350.9" x2="536.33" y2="352.7" stroke="#222" stroke-width="0.7"/>
<line x1="542.58" y1="350.9" x2="542.58" y2="352.7" stroke="#222" stroke-width="0.7"/>
<line x1="393.9" y1="350.9" x2="395.7" y2="350.9" stroke="#222" stroke-width="0.7"/>
<text x="392.4" y="352.8" font-size="5.38" text-anchor="end" textLength="14.79" lengthAdjust="spacingAndGlyphs" fill="#000">0.000</text>
<line x1="393.9" y1="331.8" x2="395.7" y2="331.8" stroke="#222" stroke-width="0.7"/>
<text x="392.4" y="333.7" font-size="5.38" text-anchor="end" textLength="14.79" lengthAdjust="spacingAndGlyphs" fill="#000">0.025</text>
<line x1="393.9" y1="312.7" x2="395.7" y2="312.7" stroke="#222" stroke-width="0.7"/>
<text x="392.4" y="314.6" font-size="5.38" text-anchor="end" textLength="14.79" lengthAdjust="spacingAndGlyphs" fill="#000">0.050</text>
<line x1="393.9" y1="293.6" x2="395.7" y2="293.6" stroke="#222" stroke-width="0.7"/>
<text x="392.4" y="295.5" font-size="5.38" text-anchor="end" textLength="14.79" lengthAdjust="spacingAndGlyphs" fill="#000">0.075</text>
<line x1="393.9" y1="274.5" x2="395.7" y2="274.5" stroke="#222" stroke-width="0.7"/>
<text x="392.4" y="276.4" font-size="5.38" text-anchor="end" textLength="14.79" lengthAdjust="spacingAndGlyphs" fill="#000">0.100</text>
<line x1="393.9" y1="255.4" x2="395.7" y2="255.4" stroke="#222" stroke-width="0.7"/>
<text x="392.4" y="257.3" font-size="5.38" text-anchor="end" textLength="14.79" lengthAdjust="spacingAndGlyphs" fill="#000">0.125</text>
<line x1="393.9" y1="236.3" x2="395.7" y2="236.3" stroke="#222" stroke-width="0.7"/>
<text x="392.4" y="238.2" font-size="5.38" text-anchor="end" textLength="14.79" lengthAdjust="spacingAndGlyphs" fill="#000">0.150</text>
<line x1="393.9" y1="217.2" x2="395.7" y2="217.2" stroke="#222" stroke-width="0.7"/>
<text x="392.4" y="219.1" font-size="5.38" text-anchor="end" textLength="14.79" lengthAdjust="spacingAndGlyphs" fill="#000">0.175</text>
<text x="398.82" y="357.1" font-size="3.1" text-anchor="middle" textLength="1.35" lengthAdjust="spacingAndGlyphs" fill="#333" style="stroke:none">0</text>
<text x="405.07" y="357.1" font-size="3.1" text-anchor="middle" textLength="1.35" lengthAdjust="spacingAndGlyphs" fill="#333" style="stroke:none">1</text>
<text x="411.32" y="357.1" font-size="3.1" text-anchor="middle" textLength="1.35" lengthAdjust="spacingAndGlyphs" fill="#333" style="stroke:none">2</text>
<text x="417.57" y="357.1" font-size="3.1" text-anchor="middle" textLength="1.35" lengthAdjust="spacingAndGlyphs" fill="#333" style="stroke:none">3</text>
<text x="423.82" y="357.1" font-size="3.1" text-anchor="middle" textLength="1.35" lengthAdjust="spacingAndGlyphs" fill="#333" style="stroke:none">4</text>
<text x="430.07" y="357.1" font-size="3.1" text-anchor="middle" textLength="1.35" lengthAdjust="spacingAndGlyphs" fill="#333" style="stroke:none">5</text>
<text x="436.32" y="357.1" font-size="3.1" text-anchor="middle" textLength="1.35" lengthAdjust="spacingAndGlyphs" fill="#333" style="stroke:none">6</text>
<text x="442.57" y="357.1" font-size="3.1" text-anchor="middle" textLength="1.35" lengthAdjust="spacingAndGlyphs" fill="#333" style="stroke:none">7</text>
<text x="448.82" y="357.1" font-size="3.1" text-anchor="middle" textLength="1.35" lengthAdjust="spacingAndGlyphs" fill="#333" style="stroke:none">8</text>
<text x="455.08" y="357.1" font-size="3.1" text-anchor="middle" textLength="1.35" lengthAdjust="spacingAndGlyphs" fill="#333" style="stroke:none">9</text>
<text x="461.33" y="357.1" font-size="3.1" text-anchor="middle" textLength="2.7" lengthAdjust="spacingAndGlyphs" fill="#333" style="stroke:none">10</text>
<text x="467.58" y="357.1" font-size="3.1" text-anchor="middle" textLength="2.7" lengthAdjust="spacingAndGlyphs" fill="#333" style="stroke:none">11</text>
<text x="473.83" y="357.1" font-size="3.1" text-anchor="middle" textLength="2.7" lengthAdjust="spacingAndGlyphs" fill="#333" style="stroke:none">12</text>
<text x="480.08" y="357.1" font-size="3.1" text-anchor="middle" textLength="2.7" lengthAdjust="spacingAndGlyphs" fill="#333" style="stroke:none">13</text>
<text x="486.33" y="357.1" font-size="3.1" text-anchor="middle" textLength="2.7" lengthAdjust="spacingAndGlyphs" fill="#333" style="stroke:none">14</text>
<text x="492.58" y="357.1" font-size="3.1" text-anchor="middle" textLength="2.7" lengthAdjust="spacingAndGlyphs" fill="#333" style="stroke:none">15</text>
<text x="498.83" y="357.1" font-size="3.1" text-anchor="middle" textLength="2.7" lengthAdjust="spacingAndGlyphs" fill="#333" style="stroke:none">16</text>
<text x="505.08" y="357.1" font-size="3.1" text-anchor="middle" textLength="2.7" lengthAdjust="spacingAndGlyphs" fill="#333" style="stroke:none">17</text>
<text x="511.33" y="357.1" font-size="3.1" text-anchor="middle" textLength="2.7" lengthAdjust="spacingAndGlyphs" fill="#333" style="stroke:none">18</text>
<text x="517.58" y="357.1" font-size="3.1" text-anchor="middle" textLength="2.7" lengthAdjust="spacingAndGlyphs" fill="#333" style="stroke:none">19</text>
<text x="523.83" y="357.1" font-size="3.1" text-anchor="middle" textLength="2.7" lengthAdjust="spacingAndGlyphs" fill="#333" style="stroke:none">20</text>
<text x="530.08" y="357.1" font-size="3.1" text-anchor="middle" textLength="2.7" lengthAdjust="spacingAndGlyphs" fill="#333" style="stroke:none">21</text>
<text x="536.33" y="357.1" font-size="3.1" text-anchor="middle" textLength="2.7" lengthAdjust="spacingAndGlyphs" fill="#333" style="stroke:none">22</text>
<text x="542.58" y="357.1" font-size="3.1" text-anchor="middle" textLength="2.7" lengthAdjust="spacingAndGlyphs" fill="#333" style="stroke:none">23</text>
<text x="470.7" y="193.8" font-size="6.46" text-anchor="middle" textLength="110.5" lengthAdjust="spacingAndGlyphs" fill="#000">logon hour feature PMF comparison</text>
<text x="470.7" y="200.7" font-size="6.46" text-anchor="middle" textLength="87.76" lengthAdjust="spacingAndGlyphs" fill="#000">real data VS generated data</text>
<text x="470.7" y="207.6" font-size="6.46" text-anchor="middle" textLength="101.6" lengthAdjust="spacingAndGlyphs" fill="#000">with optimized hyperparameters</text>
<text x="470.7" y="363.8" font-size="5.38" text-anchor="middle" textLength="12.44" lengthAdjust="spacingAndGlyphs" fill="#000">Hour</text>
<text x="0" y="0" font-size="5.43" text-anchor="middle" textLength="10.46" lengthAdjust="spacingAndGlyphs" fill="#000" transform="translate(374 282) rotate(-90)">PMF</text>
<rect x="398.2" y="213.7" width="46.1" height="17.4" rx="1" ry="1" fill="#fff" fill-opacity="0.8" stroke="#ccc" stroke-width="0.5"/>
<rect x="400.1" y="216.9" width="10.7" height="3" fill="#ff0000" fill-opacity="0.5"/>
<rect x="400.1" y="224.2" width="10.7" height="3.7" fill="#0000ff" fill-opacity="0.5"/>
<text x="415.2" y="220" font-size="5.38" text-anchor="start" textLength="11.14" lengthAdjust="spacingAndGlyphs" fill="#000">Real</text>
<text x="415.2" y="228" font-size="5.38" text-anchor="start" textLength="27.41" lengthAdjust="spacingAndGlyphs" fill="#000">Generated</text>
</g>
</svg></body></html>
